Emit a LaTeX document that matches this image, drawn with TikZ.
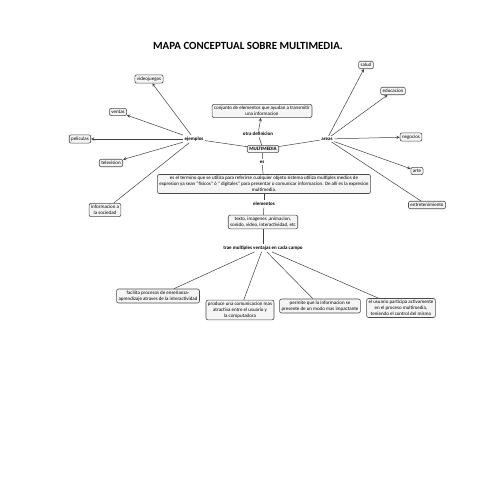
\documentclass[tikz,border=0pt]{standalone}
\usepackage{fontspec}
\setmainfont{Carlito}
\usetikzlibrary{arrows}
\tikzstyle{concept} = [rectangle, rounded corners=2bp, draw=gray!60!black, fill=gray!8, line width=0.6bp, align=center, inner sep=2bp, font=\fontsize{5}{5.8}\selectfont]
\tikzstyle{link} = [align=center, inner sep=1.5bp, font=\fontsize{5}{5.8}\selectfont\bfseries]
\tikzstyle{arrow} = [->,>=stealth]

\begin{document}
\begin{tikzpicture}[x=1bp, y=-1bp, draw=gray!50!black, line width=0.5bp]
            \useasboundingbox (0,0) rectangle (495,495);
            \node(title) at (248,46) [font=\fontsize{11}{13}\selectfont\bfseries] {MAPA CONCEPTUAL SOBRE MULTIMEDIA.};

            \node(multi) [concept] at (263,149) {\textbf{MULTIMEDIA}};
            \node(otra) [link] at (258,134) {otra definicion};
            \node(conjunto) [concept] at (262,111) {conjunto de elementos que ayudan a transmitir\\una informacion};
            \node(es) [link] at (262,162) {es};
            \node(termino) [concept] at (264,184) {es el termino que se utiliza para referirse cualquier objeto sistema utiliza multiples medios de\\expresion ya sean ``fisicos'' ó `` digitales'' para presentar o comunicar informacion. De allí es la expresion\\multimedia.};
            \node(elementos) [link] at (264,204) {elementos};
            \node(texto) [concept] at (263,222) {texto, imagenes ,animacion,\\sonido, video, interactividad, etc};
            \node(ventajas) [link] at (263,248) {trae multiples ventajas en cada campo};

            \node(facilita) [concept] at (158,296) {facilita procesos de enseñanza-\\aprendizaje atraves de la interactividad};
            \node(produce) [concept] at (240,310) {produce una comunicacion mas\\atractiva entre el usuario y\\la computadora};
            \node(permite) [concept] at (320,306) {permite que la informacion se\\presente de un modo mas impactante};
            \node(usuario) [concept] at (401,308) {el usuario participa activamente\\en el proceso multimedia,\\teniendo el control del mismo};

            \node(ejemplos) [link] at (194,139) {ejemplos};
            \node(videojuegos) [concept] at (149,79) {videojuegos};
            \node(ventas) [concept] at (118,112) {ventas};
            \node(peliculas) [concept] at (80,139) {peliculas};
            \node(television) [concept] at (111,163) {television};
            \node(sociedad) [concept] at (105,210) {informacion a\\la sociedad};

            \node(areas) [link] at (327,139) {areas};
            \node(salud) [concept] at (366,65) {salud};
            \node(educacion) [concept] at (393,91) {educacion};
            \node(negocios) [concept] at (411,137) {negocios};
            \node(arte) [concept] at (417,171) {arte};
            \node(entretenimiento) [concept] at (427,205) {entretenimiento};

            \draw (multi) -- (otra);
            \draw[arrow] (otra) -- (conjunto);
            \draw (multi) -- (es);
            \draw (es) -- (termino);
            \draw (termino) -- (elementos);
            \draw (elementos) -- (texto);
            \draw (texto) -- (ventajas);

            \draw (ventajas) -- (facilita);
            \draw (ventajas) -- (produce);
            \draw (ventajas) -- (permite);
            \draw (ventajas) -- (usuario);

            \draw (multi) -- (ejemplos);
            \draw[arrow] (ejemplos) -- (videojuegos);
            \draw[arrow] (ejemplos) -- (ventas);
            \draw[arrow] (ejemplos) -- (peliculas);
            \draw[arrow] (ejemplos) -- (television);
            \draw (ejemplos) -- (sociedad);

            \draw (multi) -- (areas);
            \draw[arrow] (areas) -- (salud);
            \draw[arrow] (areas) -- (educacion);
            \draw[arrow] (areas) -- (negocios);
            \draw[arrow] (areas) -- (arte);
            \draw (areas) -- (entretenimiento);
        \end{tikzpicture}
\end{document}
